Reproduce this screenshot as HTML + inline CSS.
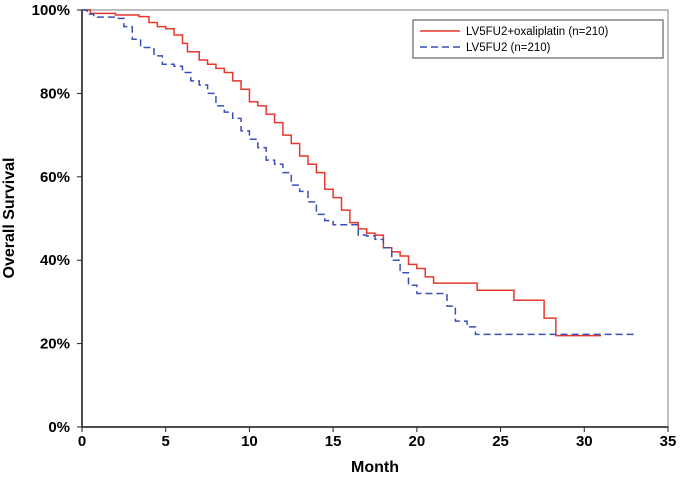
<!DOCTYPE html>
<html><head><meta charset="utf-8"><style>
body{margin:0;background:#fff;}
svg text{font-family:"Liberation Sans",Arial,sans-serif;font-weight:bold;}
</style></head><body>
<svg id="chart" width="685" height="480" viewBox="0 0 685 480">
<g id="axes"></g>
<g id="series"></g>
<g>
<rect x="413" y="20" width="250" height="38" fill="#fff" stroke="#444" stroke-width="1"/>
<line x1="420" y1="31" x2="460" y2="31" stroke="#e8372c" stroke-width="1.5"/>
<text x="466" y="35" font-size="11.5" style="font-weight:normal">LV5FU2+oxaliplatin (n=210)</text>
<line x1="420" y1="47" x2="460" y2="47" stroke="#3a4fb5" stroke-width="1.5" stroke-dasharray="7,4"/>
<text x="466" y="51" font-size="11.5" style="font-weight:normal">LV5FU2 (n=210)</text>
</g>
<text x="14" y="218" font-size="16" text-anchor="middle" transform="rotate(-90 14 218)">Overall Survival</text>
<text x="375" y="472" font-size="16" text-anchor="middle">Month</text>
</svg>
<script>
const xTicks=[0,5,10,15,20,25,30,35];
const yTicks=[0,20,40,60,80,100];
const redMonths=[0,0.5,2,3.4,4,4.5,5,5.5,6,6.3,7,7.5,8,8.5,9,9.5,10,10.5,11,11.5,12,12.5,13,13.5,14,14.5,15,15.5,16,16.5,17,17.5,18,18.5,19,19.5,20,20.5,21,23.6,25.8,27.6,28.3,31];
const redSurv=[100,99.2,98.8,98.4,97,96,95.5,94,92,90,88,87,86,85,83,81,78,77,75,73,70,68,65,63,61,57,55,52,49,47.5,46.5,46,43,42,41,39,38,36,34.5,32.8,30.4,26.1,21.9,21.9];
const blueMonths=[0,0.3,0.7,2,2.5,3,3.5,4.3,4.8,5.5,6,6.5,7,7.5,8,8.5,9,9.5,10,10.5,11,11.5,12,12.5,13,13.5,14,14.5,15,16,16.5,17,17.5,18,18.5,19,19.5,20,21.5,21.8,22.3,23,23.5,33];
const blueSurv=[100,99,98.3,98,96,93,91,89,87,86.5,85,83,82,80,77,75.5,74,71,69,67,64,63,61,58,56.5,54,51,49.5,48.5,48.5,46,45.8,45,43,40,37,34,32,32,29,25.4,24,22.2,22.2];
const X0=82,X1=668,Y0=427,Y1=10;
const sx=m=>X0+(m/35)*(X1-X0);
const sy=v=>Y0-(v/100)*(Y0-Y1);
const NS="http://www.w3.org/2000/svg";
const axes=document.getElementById('axes');
function mk(tag,attrs,parent){const e=document.createElementNS(NS,tag);for(const k in attrs)e.setAttribute(k,attrs[k]);parent.appendChild(e);return e;}
let r=mk('rect',{x:X0,y:Y1,width:X1-X0,height:Y0-Y1,fill:'none',stroke:'#aaa','stroke-width':1.5},axes);


let la=mk('line',{x1:X0,y1:Y1,x2:X0,y2:Y0,stroke:'#222','stroke-width':1.5},axes);


let ba=mk('line',{x1:X0,y1:Y0,x2:X1,y2:Y0,stroke:'#222','stroke-width':1.5},axes);


xTicks.forEach(t=>{
 const tk=mk('line',{x1:sx(t),y1:Y0,x2:sx(t),y2:Y0+5,stroke:'#222'},axes);
 
 
 const tx=mk('text',{x:sx(t),y:Y0+19,'font-size':15,'text-anchor':'middle'},axes);
 tx.textContent=t;
 
 
});
yTicks.forEach(t=>{
 const tk=mk('line',{x1:X0-5,y1:sy(t),x2:X0,y2:sy(t),stroke:'#222'},axes);
 
 
 const tx=mk('text',{x:X0-12,y:sy(t)+5,'font-size':15,'text-anchor':'end'},axes);
 tx.textContent=t+'%';
 
 
});
function stepPath(ms,vs){let d='M'+sx(ms[0])+','+sy(vs[0]);for(let i=1;i<ms.length;i++){d+=' H'+sx(ms[i])+' V'+sy(vs[i]);}return d;}
const g=document.getElementById('series');
const p1=mk('path',{d:stepPath(redMonths,redSurv),fill:'none',stroke:'#e8372c','stroke-width':1.5},g);


const p2=mk('path',{d:stepPath(blueMonths,blueSurv),fill:'none',stroke:'#3a4fb5','stroke-width':1.5,'stroke-dasharray':'7,4'},g);


</script>
</body></html>
